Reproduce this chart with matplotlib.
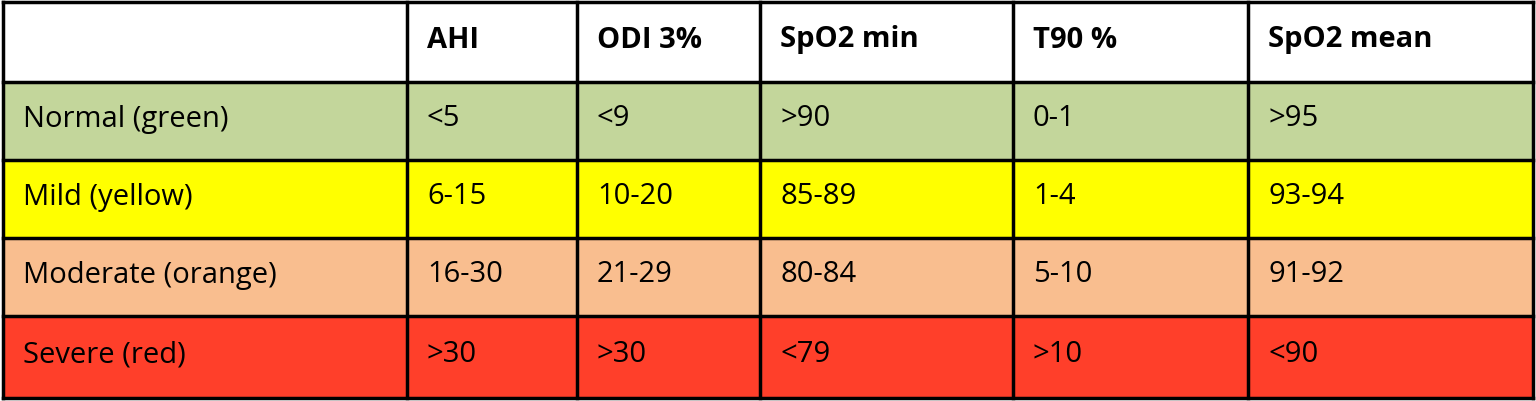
import matplotlib.pyplot as plt
from matplotlib.patches import Rectangle

headers = ['', 'AHI', 'ODI 3%', 'SpO2 min', 'T90 %', 'SpO2 mean']
row_labels = ['Normal (green)', 'Mild (yellow)', 'Moderate (orange)', 'Severe (red)']
cells = [
    ['<5', '<9', '>90', '0-1', '>95'],
    ['6-15', '10-20', '85-89', '1-4', '93-94'],
    ['16-30', '21-29', '80-84', '5-10', '91-92'],
    ['>30', '>30', '<79', '>10', '<90'],
]
row_colors = ['#C3D69B', '#FFFF00', '#F9BE8F', '#FF3F2A']

# grid layout in pixels
col_edges = [3, 407, 577, 760, 1013, 1248, 1533]
row_edges = [2, 82, 160, 238, 316, 398]

fig = plt.figure(figsize=(15.36, 4.01), dpi=100)
ax = fig.add_axes([0, 0, 1, 1])
ax.set_xlim(0, 1536)
ax.set_ylim(401, 0)
ax.axis('off')

font = dict(family='Open Sans', fontsize=21, color='black', va='center', ha='left')

for r in range(5):
    y0, y1 = row_edges[r], row_edges[r + 1]
    color = 'white' if r == 0 else row_colors[r - 1]
    ax.add_patch(Rectangle((col_edges[0], y0), col_edges[-1] - col_edges[0], y1 - y0,
                           facecolor=color, edgecolor='none'))
    for c in range(6):
        if r == 0:
            txt = headers[c]
            weight = 'bold'
        else:
            txt = row_labels[r - 1] if c == 0 else cells[r - 1][c - 1]
            weight = 'normal'
        ax.text(col_edges[c] + 20, (y0 + y1) / 2 - 2, txt, fontweight=weight, **font)

for x in col_edges:
    ax.plot([x, x], [row_edges[0], row_edges[-1]], color='black', lw=2.5)
for y in row_edges:
    ax.plot([col_edges[0], col_edges[-1]], [y, y], color='black', lw=2.5)

fig.savefig('out.png', dpi=100)
